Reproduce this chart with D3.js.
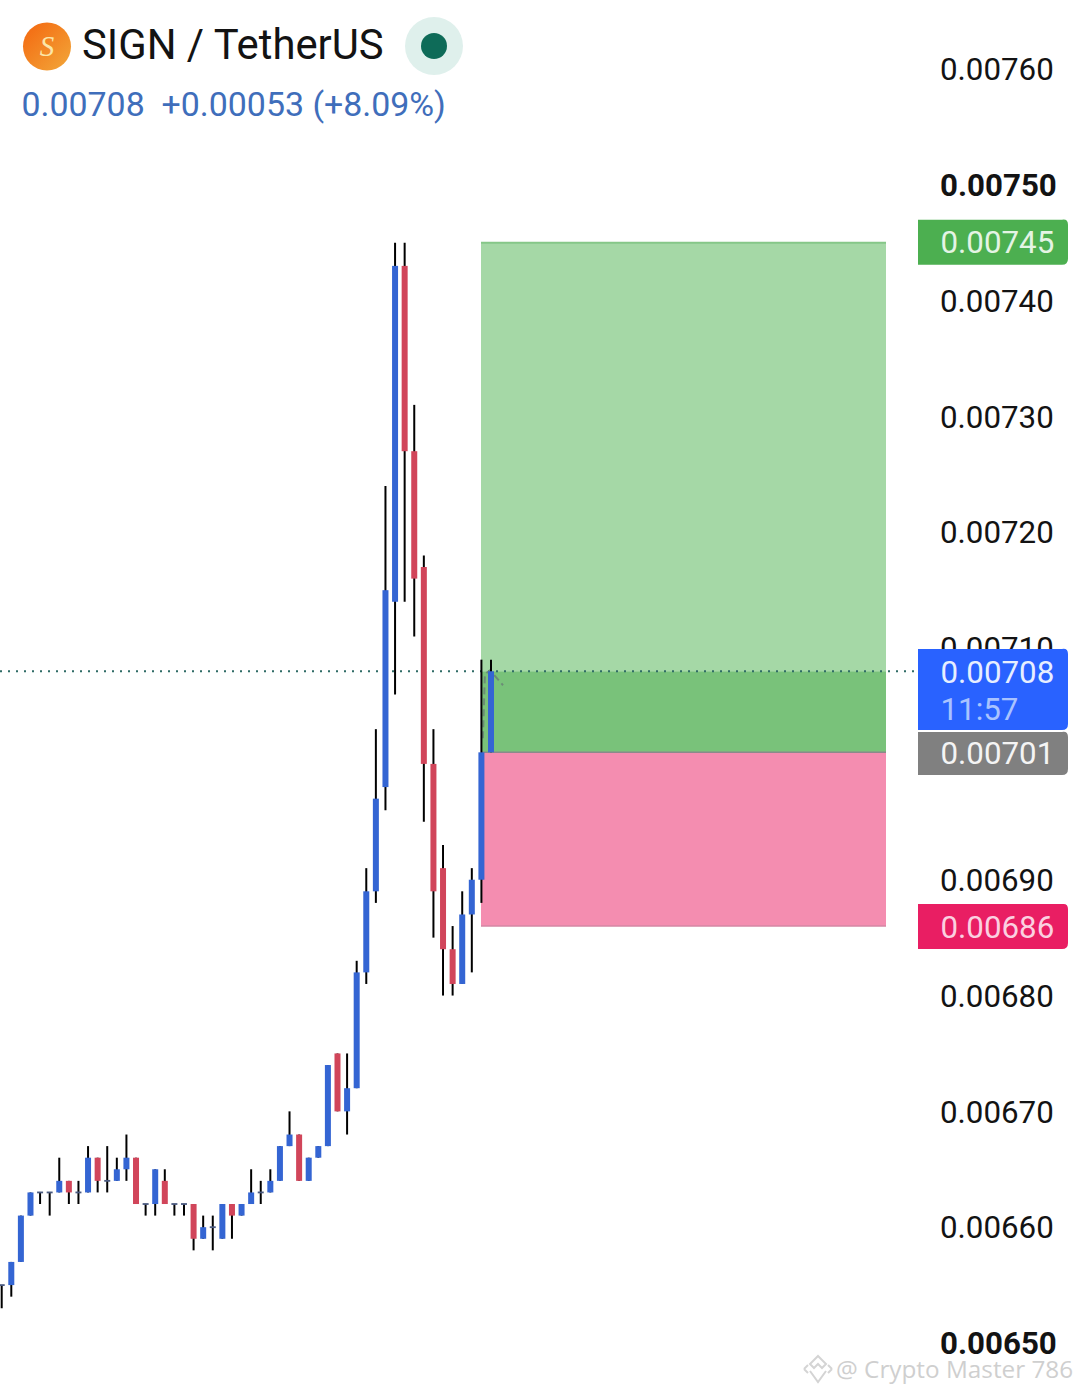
<!DOCTYPE html>
<html><head><meta charset="utf-8">
<script src="https://cdn.jsdelivr.net/npm/d3@7/dist/d3.min.js"></script>
<style>html,body{margin:0;padding:0;background:#fff}svg{display:block}text{font-family:Roboto,sans-serif}</style>
</head><body><svg id="c" width="1080" height="1394"></svg>
<script>
const open  = [655,655,657,661,663,663,663,664,663,663,666,664,664,665,666,662,662,664,662,662,662,659,660,659,662,661,662,663,663,664,667,668,664,666,667,675,670,672,682,689,698,714,743,727,717,700,691,684,681,687,690,701];
const close = [655,657,661,663,663,663,664,663,663,666,664,664,665,666,662,662,665,662,662,662,659,660,660,662,661,662,663,663,664,667,668,664,666,667,674,670,672,682,689,697,715,743,727,716,700,689,684,681,687,690,701,708];
const high  = [655,657,661,663,663,663,666,664,664,667,666,667,666,668,666,662,665,665,662,662,662,661,661,662,662,662,665,664,665,667,670,668,666,667,674,675,675,683,691,703,724,745,745,731,718,703,693,686,689,691,709,709];
const low   = [653,654,657,661,662,661,663,662,662,663,663,663,664,664,662,661,661,662,661,661,658,659,658,659,659,661,662,662,663,664,667,664,664,666,667,670,668,672,681,688,696,706,714,711,695,685,680,680,681,682,688,701];
const tickLevels = [760,750,740,730,720,710,690,680,670,660,650];
const boldLevels = [750,650];
const last = 708, entry = 701, target = 745, stop = 686;
const unit = 1e-5;
const title = "SIGN / TetherUS";
const quote = "0.00708  +0.00053 (+8.09%)";
const countdown = "11:57";
const watermark = "@ Crypto Master 786";

const svg = d3.select("#c");
const y = d3.scaleLinear().domain([650*unit,760*unit]).range([1343,69]);
const x = d3.scaleLinear().domain([0,51]).range([1.7,491]);
const fmt = d3.format(".5f");
const BLUE="#3465d3", RED="#d1455a", DOJI="#4a5a80";
const FS = 31.3;

// position box
const bx0=481, bx1=886;
svg.append("rect").attr("x",bx0).attr("width",bx1-bx0).attr("y",y(target*unit)).attr("height",y(last*unit)-y(target*unit)).attr("fill","#a5d8a6");
svg.append("rect").attr("x",bx0).attr("width",bx1-bx0).attr("y",y(last*unit)).attr("height",y(entry*unit)-y(last*unit)).attr("fill","#79c27a");
svg.append("rect").attr("x",bx0).attr("width",bx1-bx0).attr("y",y(entry*unit)).attr("height",y(stop*unit)-y(entry*unit)).attr("fill","#f48db0");
svg.append("line").attr("x1",bx0).attr("x2",bx1).attr("y1",y(target*unit)).attr("y2",y(target*unit)).attr("stroke","#86c788").attr("stroke-width",2);
svg.append("line").attr("x1",bx0).attr("x2",bx1).attr("y1",y(entry*unit)).attr("y2",y(entry*unit)).attr("stroke","#8a8a8a").attr("stroke-width",1.5);
svg.append("line").attr("x1",bx0).attr("x2",bx1).attr("y1",y(stop*unit)).attr("y2",y(stop*unit)).attr("stroke","#d587a5").attr("stroke-width",1.5);

// last price dotted
svg.append("line").attr("x1",0).attr("x2",918).attr("y1",y(last*unit)).attr("y2",y(last*unit))
  .attr("stroke","#2f6b66").attr("stroke-width",2).attr("stroke-dasharray","2 6");

// small dashed arrow
svg.append("path").attr("d",`M${x(50)+1.5},${y(entry*unit)-14} L${x(50)+3.5},${y(last*unit)+3} L${x(51)-1},${y(last*unit)-1} L${x(51)+12},${y(last*unit)+14}`)
  .attr("fill","none").attr("stroke","#6b8c76").attr("stroke-width",2).attr("stroke-dasharray","7 4");

// candles
const idx = d3.range(open.length);
svg.append("g").selectAll("line").data(idx).join("line")
  .attr("x1",i=>x(i)).attr("x2",i=>x(i))
  .attr("y1",i=>y(high[i]*unit)).attr("y2",i=>y(low[i]*unit))
  .attr("stroke","#000").attr("stroke-width",2);
svg.append("g").selectAll("rect").data(idx).join("rect")
  .attr("x",i=>x(i)-3).attr("width",6)
  .attr("y",i=>open[i]===close[i]? y(open[i]*unit)-0.9 : y(Math.max(open[i],close[i])*unit))
  .attr("height",i=>open[i]===close[i]? 1.8 : Math.abs(y(open[i]*unit)-y(close[i]*unit)))
  .attr("fill",i=>open[i]===close[i]?DOJI:(close[i]>open[i]?BLUE:RED));

// price axis
const axis = d3.axisRight(y).tickValues(tickLevels.map(d=>d*unit)).tickSize(0).tickPadding(0).tickFormat(fmt);
const ga = svg.append("g").attr("transform","translate(940,0)").call(axis);
ga.select(".domain").remove();
ga.selectAll("text").attr("fill","#131313").attr("font-size",FS).attr("dy","0.34em")
  .style("font-family","Roboto,sans-serif")
  .attr("font-weight",d=>boldLevels.includes(Math.round(d/unit))?700:400);

// labels
function tag(level, y0, y1, fill){
  const r=6, xl=918, xr=1068;
  svg.append("path").attr("d",`M${xl},${y0+1} H${xr-r} Q${xr},${y0} ${xr},${y0+r} V${y1-r} Q${xr},${y1} ${xr-r},${y1} H${xl} Z`).attr("fill",fill);
}
function lab(t,yc,fill){
  svg.append("text").attr("x",940.5).attr("y",yc).attr("dy","0.34em").attr("font-size",FS).attr("fill",fill).text(t);
}
const yT=y(target*unit), yL=y(last*unit), yE=y(entry*unit), yS=y(stop*unit);
tag(target, yT-24, yT+22, "#4caf50"); lab(fmt(target*unit), yT, "#e4f4e4");
tag(last, 648, 730, "#2962ff"); lab(fmt(last*unit), yL+1, "#e6eeff"); lab(countdown, 709, "#a9c3ff");
tag(entry, 731, 775, "#808080"); lab(fmt(entry*unit), yE+1, "#f4f4f4");
tag(stop, yS-23, yS+23, "#e91e63"); lab(fmt(stop*unit), yS+1, "#fbd0e0");

// header
const defs = svg.append("defs");
const g = defs.append("linearGradient").attr("id","lg").attr("x1","0").attr("y1","0").attr("x2","1").attr("y2","1");
g.append("stop").attr("offset","0").attr("stop-color","#f4660f");
g.append("stop").attr("offset","1").attr("stop-color","#f2a83a");
svg.append("circle").attr("cx",47).attr("cy",46.5).attr("r",24).attr("fill","url(#lg)");
svg.append("text").attr("x",47).attr("y",56).attr("text-anchor","middle").attr("font-size",29).attr("font-style","italic")
  .style("font-family","'Liberation Serif',serif").attr("fill","#fbe6a8").text("S");
svg.append("text").attr("x",82).attr("y",59).attr("font-size",41.8).attr("fill","#131313").text(title);
svg.append("circle").attr("cx",434).attr("cy",46).attr("r",29).attr("fill","#dff0ec");
svg.append("circle").attr("cx",434).attr("cy",46).attr("r",13).attr("fill","#0e6b58");
svg.append("text").attr("x",21.5).attr("y",116).attr("font-size",33.9).attr("fill","#3f6ebb").style("white-space","pre").text(quote);

// watermark
svg.append("text").attr("x",836).attr("y",1378).attr("font-size",24.3).attr("fill","#cfcfcf")
  .style("font-family","'Open Sans',sans-serif").text(watermark);
const wm = svg.append("g").attr("transform","translate(818,1369)").attr("fill","none").attr("stroke","#d4d4d4").attr("stroke-width",2);
wm.append("path").attr("d","M0,-13 L8,-5 L4,-1 L0,-5 L-4,-1 L-8,-5 Z");
wm.append("path").attr("d","M-8,2 L0,13 L8,2");
wm.append("path").attr("d","M-14,0 L-10,-4 M14,0 L10,-4 M-14,0 L-10,4 M14,0 L10,4");
</script></body></html>
